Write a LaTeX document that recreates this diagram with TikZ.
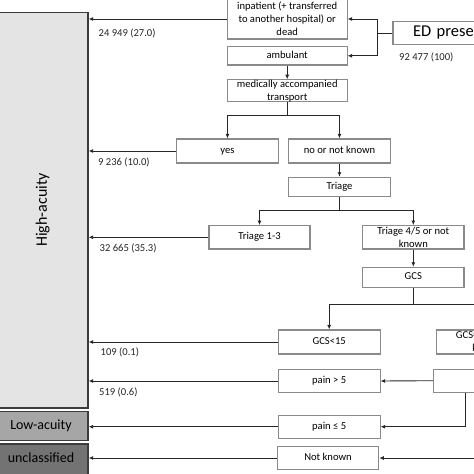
\documentclass[tikz,border=0pt]{standalone}
\usepackage{fontspec}
\setmainfont{Carlito}
\usetikzlibrary{arrows.meta}
\definecolor{boxgray}{HTML}{8A8A8A}
\definecolor{linegray}{HTML}{262626}
\definecolor{highfill}{HTML}{E4E4E4}
\definecolor{lowfill}{HTML}{A6A6A6}
\definecolor{uncfill}{HTML}{737373}
\definecolor{catborder}{HTML}{3C3C3C}
\newcommand{\fsnorm}{\fontsize{10.6}{13}\selectfont}
\tikzset{
  flowbox/.style={draw=boxgray, line width=1.1pt, inner sep=0pt, align=center, font=\fsnorm, text=black},
  oneline/.style={text height=7.4pt, text depth=2.4pt},
  catbox/.style={draw=catborder, line width=1.3pt, inner sep=0pt},
  arr/.style={draw=linegray, line width=0.9pt, -{Latex[length=4.5pt,width=4pt]}},
  ln/.style={draw=linegray, line width=0.9pt},
  numlbl/.style={anchor=west, inner sep=0pt, font=\fsnorm, text=linegray}
}
\begin{document}
\begin{tikzpicture}[x=1pt,y=-1pt]
\useasboundingbox (0,0) rectangle (474,474);
\clip (0,0) rectangle (474,474);
% category boxes
\node[catbox, fill=highfill, minimum width=98pt, minimum height=395.3pt] (high) at (39,210.35) {};
\node[catbox, fill=lowfill, minimum width=98pt, minimum height=29pt] (low) at (39,426.2) {};
\node[catbox, fill=uncfill, minimum width=98pt, minimum height=36pt] (uncl) at (39,462) {};
\node[rotate=90, font=\fontsize{16}{18}\selectfont, inner sep=0pt] (hightxt) at (42.7,210) {High-acuity};
\node[font=\fontsize{14}{16}\selectfont, inner sep=0pt, text height=9.8pt, text depth=3pt] (lowtxt) at (41,426) {Low-acuity};
\node[font=\fontsize{14}{16}\selectfont, inner sep=0pt, text height=9.8pt, text depth=3pt] (unctxt) at (41,459) {unclassified};
% flow boxes
\node[flowbox, minimum width=148pt, minimum height=22.6pt, text width=108pt, align=left, font=\fontsize{16.5}{18}\selectfont, text height=11.5pt, text depth=3.6pt] (ed) at (467,33) {\mbox{ED presentation}};
\node[flowbox, minimum width=119.7pt, minimum height=40pt] (inp) at (287.2,19) {inpatient (+ transferred\\to another hospital) or\\dead};
\node[flowbox, oneline, minimum width=119.7pt, minimum height=18.3pt] (amb) at (287.2,55.8) {ambulant};
\node[flowbox, minimum width=119.7pt, minimum height=21.7pt] (med) at (287.2,90.8) {medically accompanied\\transport};
\node[flowbox, oneline, minimum width=101.6pt, minimum height=24pt] (yes) at (227.5,151) {yes};
\node[flowbox, oneline, minimum width=102.4pt, minimum height=24pt] (nok) at (339.5,151) {no or not known};
\node[flowbox, oneline, minimum width=102.4pt, minimum height=19.4pt] (tri) at (339.5,187) {Triage};
\node[flowbox, oneline, minimum width=101pt, minimum height=23.3pt] (t13) at (259.5,237.3) {Triage 1-3};
\node[flowbox, minimum width=101.3pt, minimum height=23.3pt] (t45) at (413.3,237.3) {Triage 4/5 or not\\known};
\node[flowbox, oneline, minimum width=101.3pt, minimum height=20pt] (gcs) at (413.3,277.3) {GCS};
\node[flowbox, oneline, minimum width=101.7pt, minimum height=24pt] (g15) at (329.2,342) {GCS<15};
\node[flowbox, minimum width=101.7pt, minimum height=24pt] (gnk) at (487,342) {GCS=15 or not\\known};
\node[flowbox, minimum width=101.7pt, minimum height=22.7pt] (pain) at (484.2,380.7) {};
\node[flowbox, oneline, minimum width=101.7pt, minimum height=23.4pt] (p5) at (329.2,381) {pain > 5};
\node[flowbox, oneline, minimum width=101.7pt, minimum height=23.3pt] (ple) at (329.2,426.7) {pain ≤ 5};
\node[flowbox, oneline, minimum width=101.4pt, minimum height=22.6pt] (nk) at (328,458) {Not known};
% labels
\node[numlbl] (l1) at (98.5,33) {24 949 (27.0)};
\node[numlbl] (l0) at (399,57) {92 477 (100)};
\node[numlbl] (l2) at (98,162) {9 236 (10.0)};
\node[numlbl] (l3) at (99.5,248) {32 665 (35.3)};
\node[numlbl] (l4) at (100.5,352) {109 (0.1)};
\node[numlbl] (l5) at (99,392) {519 (0.6)};
% connectors
\coordinate (j1) at (377.3,33);
\draw[ln] (ed.west) -- (j1);
\draw[arr] (j1) |- (inp.east);
\draw[arr] (j1) |- (amb.east);
\draw[arr] (inp.west) -- (inp.west -| high.east);
\draw[arr] (amb.south) -- (med.north);
\coordinate (s1) at (287.2,115);
\draw[ln] (med.south) -- (s1);
\draw[arr] (s1) -| (yes.north);
\draw[arr] (s1) -| (nok.north);
\draw[arr] (yes.west) -- (yes.west -| high.east);
\draw[arr] (nok.south) -- (tri.north);
\coordinate (s2) at (339.5,210.7);
\draw[ln] (tri.south) -- (s2);
\draw[arr] (s2) -| (t13.north);
\draw[arr] (s2) -| (t45.north);
\draw[arr] (t13.west) -- (t13.west -| high.east);
\draw[arr] (t45.south) -- (gcs.north);
\coordinate (s3) at (413.3,304.3);
\draw[ln] (gcs.south) -- (s3);
\draw[arr] (s3) -| (g15.north);
\draw[arr] (s3) -| (gnk.north);
\draw[arr] (g15.west) -- (g15.west -| high.east);
\draw[arr] (pain.west) -- (p5.east);
\draw[arr] (p5.west) -- (p5.west -| high.east);
\draw[arr] ([xshift=-19.2pt]pain.south) |- (ple.east);
\draw[arr] (ple.west) -- (ple.west -| low.east);
\coordinate (nkin) at (480,458);
\draw[arr] (nkin) -- (nk.east);
\draw[arr] (nk.west) -- (nk.west -| uncl.east);
\end{tikzpicture}
\end{document}
